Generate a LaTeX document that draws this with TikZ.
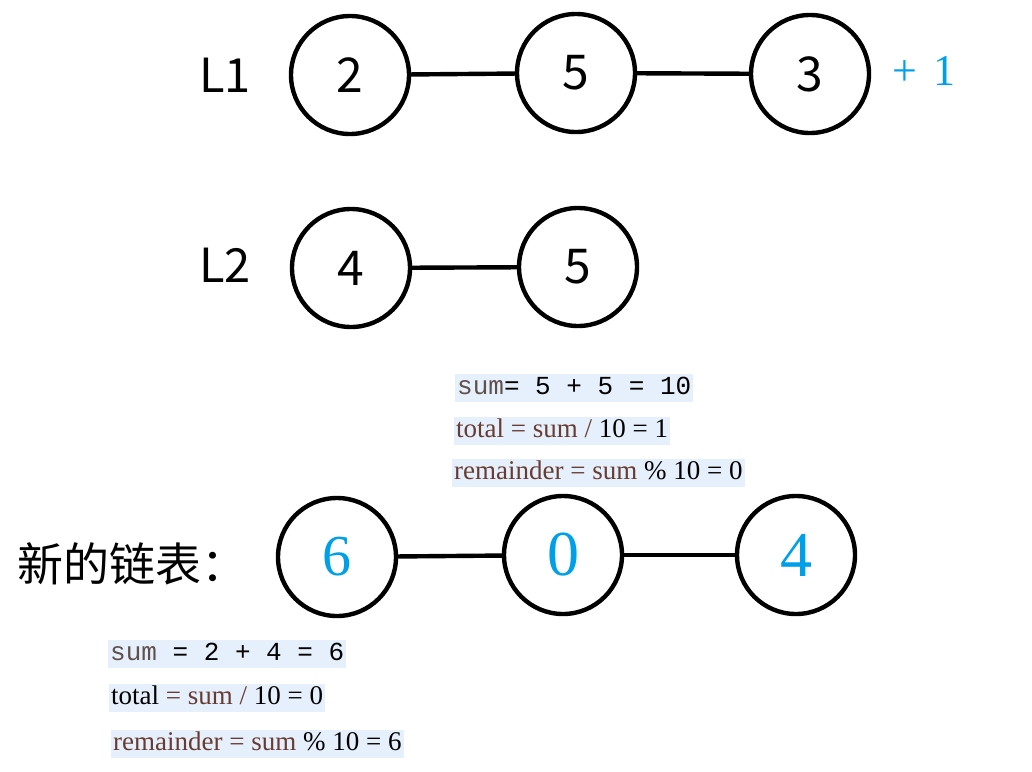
\documentclass[tikz,border=0pt]{standalone}
\usepackage{fontspec}
\setmainfont{Liberation Serif}
\newfontfamily\cjk{Noto Sans CJK SC}
\newfontfamily\monof{Liberation Mono}
\definecolor{nodeblue}{RGB}{0,160,233}
\definecolor{codebg}{RGB}{230,240,252}
\definecolor{brn}{RGB}{105,60,50}
\definecolor{gbrn}{RGB}{95,80,75}
\tikzset{
  lnode/.style={circle,draw=black,line width=4.4pt,minimum size=118pt,inner sep=0pt,font=\cjk\fontsize{48}{48}\selectfont},
  rnode/.style={circle,draw=black,line width=4.4pt,minimum size=118pt,inner sep=0pt,text=nodeblue},
  link/.style={line width=4.4pt},
  codeline/.style={fill=codebg,anchor=west,inner xsep=2pt,inner ysep=0pt,text height=20pt,text depth=8pt},
  monoline/.style={codeline,font=\monof\fontsize{26}{26}\selectfont},
  serifline/.style={codeline,font=\fontsize{27}{27}\selectfont},
  lbl/.style={font=\cjk\fontsize{47}{47}\selectfont}
}
\begin{document}
\begin{tikzpicture}[x=1pt,y=-1pt]
\useasboundingbox (0,0) rectangle (1032,771);
% L1
\node[lbl] (L1) at (225,75) {L1};
\node[lnode] (a1) at (350,75) {2};
\node[lnode] (a2) at (576,73) {5};
\node[lnode] (a3) at (810,74) {3};
\draw[link] (a1) -- (a2);
\draw[link] (a2) -- (a3);
\node[font=\fontsize{44}{44}\selectfont,text=nodeblue,anchor=west] (plus) at (889,71) {+\hspace{16pt}1};
% L2
\node[lbl] (L2) at (225,265) {L2};
\node[lnode] (b1) at (351,268) {4};
\node[lnode] (b2) at (578,267) {5};
\draw[link] (b1) -- (b2);
% first code block
\node[monoline] (s1) at (455,388) {\textcolor{gbrn}{sum}= 5 + 5 = 10};
\node[serifline] (t1) at (454,431) {\textcolor{brn}{total = sum /} 10 = 1};
\node[serifline] (m1) at (452,473) {\textcolor{brn}{remainder = sum} \% 10 = 0};
% result list
\node[font=\cjk\fontsize{46}{46}\selectfont,anchor=west] (title) at (14,564) {新的链表：};
\node[rnode,font=\fontsize{58}{58}\selectfont] (c1) at (337,557) {6};
\node[rnode,font=\fontsize{64}{64}\selectfont] (c2) at (563,555) {0};
\node[rnode,font=\fontsize{64}{64}\selectfont] (c3) at (796,555) {4};
\draw[link] (c1) -- (c2);
\draw[link] (c2) -- (c3);
% second code block
\node[monoline] (s2) at (108,654) {\textcolor{gbrn}{sum} = 2 + 4 = 6};
\node[serifline] (t2) at (109,698) {total \textcolor{brn}{= sum /} 10 = 0};
\node[serifline] (m2) at (111,744) {\textcolor{brn}{remainder = sum} \% 10 = 6};
\end{tikzpicture}
\end{document}
